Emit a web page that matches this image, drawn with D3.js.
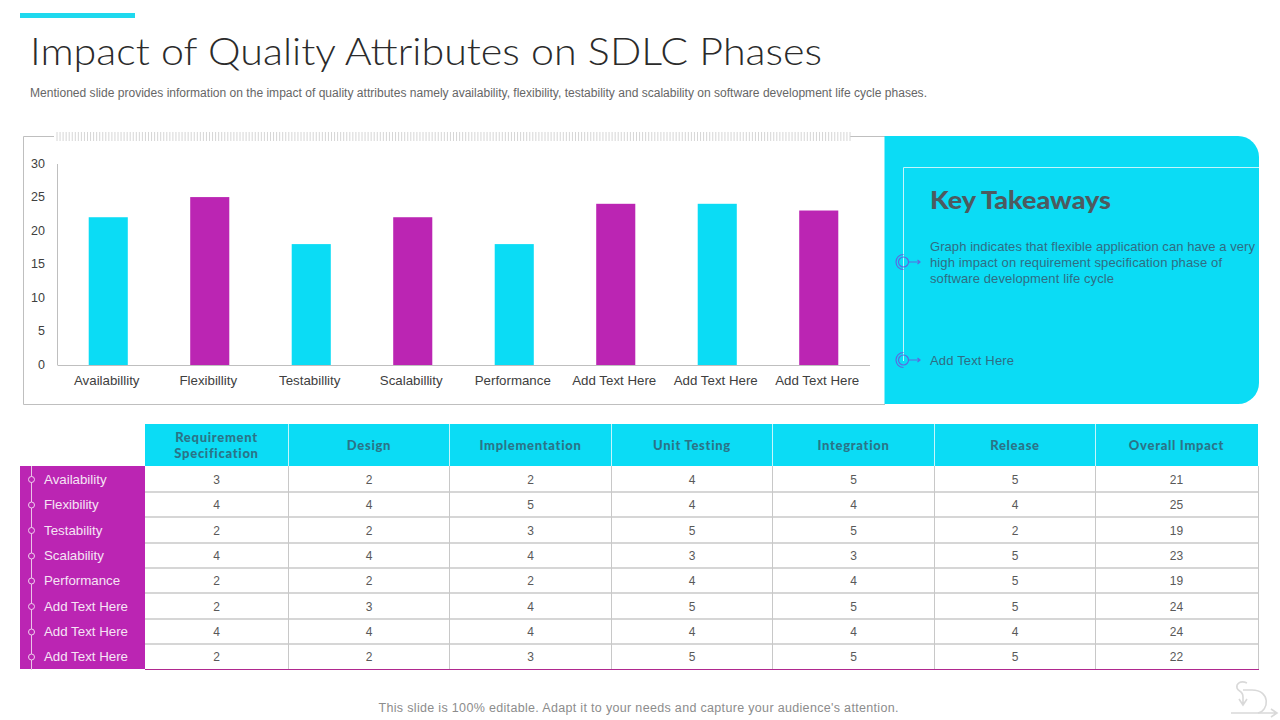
<!DOCTYPE html>
<html>
<head>
<meta charset="utf-8">
<script src="https://cdn.jsdelivr.net/npm/d3@7"></script>
<style>
html, body { margin: 0; padding: 0; background: #fff; }
svg { display: block; }
text { font-family: "Liberation Sans", Arial, sans-serif; }
</style>
</head>
<body>
<svg width="1280" height="720"></svg>
<script>
var categories = ['Availabillity', 'Flexibillity', 'Testabillity', 'Scalabillity', 'Performance', 'Add Text Here', 'Add Text Here', 'Add Text Here'];
var barValues = [22, 25, 18, 22, 18, 24, 24, 23];
var yTicks = [0, 5, 10, 15, 20, 25, 30];

var columns = ['Requirement|Specification', 'Design', 'Implementation', 'Unit Testing', 'Integration', 'Release', 'Overall Impact'];
var rowNames = ['Availability', 'Flexibility', 'Testability', 'Scalability', 'Performance', 'Add Text Here', 'Add Text Here', 'Add Text Here'];
var tableRows = [
    [3, 2, 2, 4, 5, 5, 21],
    [4, 4, 5, 4, 4, 4, 25],
    [2, 2, 3, 5, 5, 2, 19],
    [4, 4, 4, 3, 3, 5, 23],
    [2, 2, 2, 4, 4, 5, 19],
    [2, 3, 4, 5, 5, 5, 24],
    [4, 4, 4, 4, 4, 4, 24],
    [2, 2, 3, 5, 5, 5, 22]
];

var cyan = '#0bdcf5';
var purple = '#bb25b3';
var headFont = '"Lato", "Open Sans", sans-serif';

var svg = d3.select('svg');

// header
svg.append('rect').attr('x', 20).attr('y', 13).attr('width', 115).attr('height', 5).attr('fill', '#1fd9ee');

svg.append('text').attr('x', 30).attr('y', 65)
    .attr('textLength', 792).attr('lengthAdjust', 'spacingAndGlyphs')
    .style('font-family', headFont).style('font-weight', 300)
    .style('font-size', '38px').attr('fill', '#2b2b2b')
    .text('Impact of Quality Attributes on SDLC Phases');

svg.append('text').attr('x', 30).attr('y', 97)
    .attr('textLength', 897).attr('lengthAdjust', 'spacingAndGlyphs')
    .style('font-size', '12px').attr('fill', '#666')
    .text('Mentioned slide provides information on the impact of quality attributes namely availability, flexibility, testability and scalability on software development life cycle phases.');

// chart frame
var frame = svg.append('g').attr('fill', 'none').attr('stroke', '#bfbfbf');
frame.append('path').attr('d', 'M54,136.5H23.5V404.5H885');
frame.append('path').attr('d', 'M850,136.5H885');

var hatch = svg.append('g').attr('stroke', '#d6d6d6').attr('stroke-width', 1);
d3.range(57, 851, 3.05).forEach(function(x) {
    hatch.append('line').attr('x1', x).attr('x2', x).attr('y1', 132).attr('y2', 141);
});

// bar chart
var xScale = d3.scaleBand().domain(d3.range(categories.length)).range([57.5, 869.5]).paddingInner(0.615).paddingOuter(0.3075);
var yScale = d3.scaleLinear().domain([0, 30]).range([365, 163.5]);

var chart = svg.append('g');

chart.selectAll('.bar')
    .data(barValues)
    .enter()
    .append('rect')
    .attr('class', 'bar')
    .attr('x', function(d, i) { return xScale(i); })
    .attr('y', function(d) { return yScale(d); })
    .attr('width', xScale.bandwidth())
    .attr('height', function(d) { return yScale(0) - yScale(d); })
    .attr('fill', function(d, i) { return i % 2 == 0 ? cyan : purple; });

var yAxis = d3.axisLeft(yScale).tickValues(yTicks).tickSize(0).tickPadding(12);
var yG = chart.append('g').attr('transform', 'translate(57,0)').call(yAxis);
yG.select('.domain').attr('stroke', '#bfbfbf');
yG.selectAll('text').attr('dy', '0.28em').style('font-size', '12.5px').attr('fill', '#404040');

var xAxis = d3.axisBottom(xScale).tickFormat(function(i) { return categories[i]; }).tickSize(0).tickPadding(9);
var xG = chart.append('g').attr('transform', 'translate(0,365)').call(xAxis);
xG.select('.domain').attr('stroke', '#bfbfbf');
xG.selectAll('text').attr('x', -1.5).attr('dy', '0.85em').style('font-size', '13.3px').attr('fill', '#404040');

// key takeaways panel
svg.append('path')
    .attr('d', 'M884.5,136H1238a21,21 0 0 1 21,21V383a21,21 0 0 1 -21,21H884.5Z')
    .attr('fill', cyan);
svg.append('path').attr('d', 'M1259,167.5H903.5V361').attr('fill', 'none').attr('stroke', '#c4f5fb');

svg.append('text').attr('x', 930).attr('y', 208.5)
    .style('font-family', headFont).style('font-weight', 900)
    .style('font-size', '25px').attr('fill', '#4d5a5f')
    .attr('textLength', 181).attr('lengthAdjust', 'spacingAndGlyphs')
    .text('Key Takeaways');

var takeaway = [
    ['Graph indicates that flexible application can have a very', 246, 325],
    ['high impact on requirement specification phase of', 262, 292],
    ['software development life cycle', 278, 184],
    ['Add Text Here', 360, 84]
];
svg.selectAll('.takeaway')
    .data(takeaway)
    .enter()
    .append('text')
    .attr('class', 'takeaway')
    .attr('x', 930)
    .attr('y', function(d) { return d[1]; })
    .attr('dy', '0.35em')
    .attr('textLength', function(d) { return d[2]; })
    .attr('lengthAdjust', 'spacing')
    .style('font-size', '13px')
    .attr('fill', '#2f6d84')
    .text(function(d) { return d[0]; });

[262, 360].forEach(function(y) {
    var m = svg.append('g').attr('fill', 'none').attr('stroke', '#5a6be0').attr('stroke-width', 1.2);
    m.append('circle').attr('cx', 903.5).attr('cy', y).attr('r', 5);
    m.append('path').attr('d', 'M903.5,' + (y - 7.5) + 'a7.5,7.5 0 0 0 0,15');
    m.append('path').attr('d', 'M908.5,' + y + 'H920M917.5,' + (y - 2) + 'L920,' + y + 'L917.5,' + (y + 2));
});

// table
var colEdges = [145, 289, 450, 612, 773, 935, 1096, 1258];
var rowEdges = [466, 492, 517, 543, 568, 593, 619, 644, 669];
var table = svg.append('g');

table.append('rect').attr('x', 145).attr('y', 424).attr('width', 1113).attr('height', 42).attr('fill', cyan);
table.append('rect').attr('x', 20).attr('y', 466).attr('width', 125).attr('height', 203).attr('fill', purple);

columns.forEach(function(name, i) {
    var cx = (colEdges[i] + colEdges[i + 1]) / 2 - 0.5;
    var parts = name.split('|');
    parts.forEach(function(p, k) {
        table.append('text')
            .attr('x', cx)
            .attr('y', parts.length == 1 ? 445 : 437 + k * 16)
            .attr('dy', '0.35em')
            .attr('text-anchor', 'middle')
            .style('font-family', headFont).style('font-weight', 900)
            .style('font-size', '13px').style('letter-spacing', '0.7px')
            .attr('fill', '#2a7488')
            .text(p);
    });
    if (i > 0) {
        table.append('line').attr('x1', colEdges[i] - 0.5).attr('x2', colEdges[i] - 0.5)
            .attr('y1', 424).attr('y2', 466).attr('stroke', '#c4f5fb');
    }
});

colEdges.slice(1).forEach(function(x, i) {
    var lx = i == colEdges.length - 2 ? x + 0.5 : x - 0.5;
    table.append('line').attr('x1', lx).attr('x2', lx).attr('y1', 466).attr('y2', 669).attr('stroke', '#c8c8c8');
});
rowEdges.slice(1, -1).forEach(function(y) {
    table.append('line').attr('x1', 145).attr('x2', 1258).attr('y1', y).attr('y2', y).attr('stroke', '#c8c8c8').attr('stroke-width', 1.5);
});
table.append('line').attr('x1', 145).attr('x2', 1259).attr('y1', 669.5).attr('y2', 669.5).attr('stroke', '#b0288f');

table.append('line').attr('x1', 31.5).attr('x2', 31.5).attr('y1', 466).attr('y2', 670).attr('stroke', '#e9c3e6');

tableRows.forEach(function(row, r) {
    var cy = (rowEdges[r] + rowEdges[r + 1]) / 2 + 0.5;
    table.append('circle').attr('cx', 31.5).attr('cy', cy).attr('r', 3)
        .attr('fill', purple).attr('stroke', '#f0d0ee');
    table.append('text').attr('x', 44).attr('y', cy - 0.5).attr('dy', '0.35em')
        .style('font-size', '13.3px').attr('fill', '#f6e4f5').text(rowNames[r]);
    row.forEach(function(v, c) {
        table.append('text')
            .attr('x', (colEdges[c] + colEdges[c + 1]) / 2 - 0.5)
            .attr('y', cy).attr('dy', '0.35em')
            .attr('text-anchor', 'middle')
            .style('font-size', '12px').attr('fill', '#595959')
            .text(v);
    });
});

// footer
svg.append('text').attr('x', 638.5).attr('y', 712)
    .attr('text-anchor', 'middle')
    .attr('textLength', 520).attr('lengthAdjust', 'spacing')
    .style('font-size', '12.5px').attr('fill', '#8c8c8c')
    .text("This slide is 100% editable. Adapt it to your needs and capture your audience's attention.");

var loopIcon = svg.append('g').attr('fill', 'none').attr('stroke', '#d9d9d9').attr('stroke-width', 1.6);
loopIcon.append('path').attr('d', 'M1231,713H1276M1271,709L1277,713L1271,717');
loopIcon.append('path').attr('d', 'M1258,713C1269,711 1271,690 1252,690H1243');
loopIcon.append('path').attr('d', 'M1247,683C1240,680 1236,684 1237,688C1238,692 1243,690 1243,697V705M1239,699L1243,705L1247,699');
</script>
</body>
</html>
